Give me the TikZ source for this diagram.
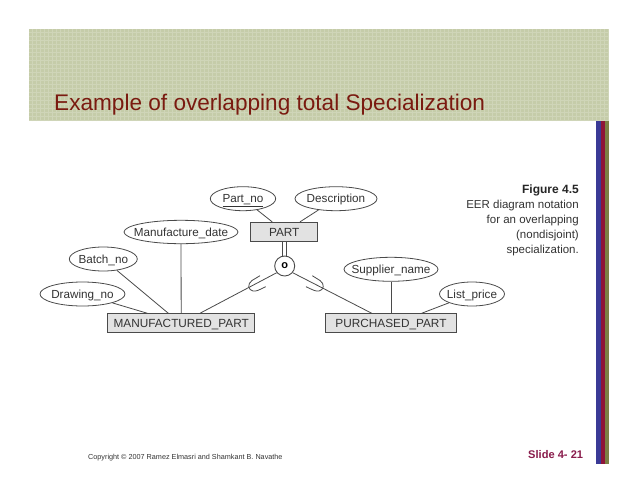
\documentclass[tikz,border=0pt]{standalone}
\usepackage{fontspec}
\setmainfont{Liberation Sans}
\usetikzlibrary{shapes.geometric}
\definecolor{hdr}{HTML}{C5CCA9}
\definecolor{hdrline}{HTML}{CFD5B8}
\definecolor{titlered}{HTML}{7A1A10}
\definecolor{slidered}{HTML}{8A1C4C}
\definecolor{barblue}{HTML}{3A3A96}
\definecolor{barred}{HTML}{8E1438}
\definecolor{barolive}{HTML}{7C8044}
\definecolor{ink}{HTML}{4A4A4A}
\definecolor{txt}{HTML}{333333}
\definecolor{boxfill}{HTML}{E2E2E2}
\newcommand{\attrlabel}[1]{\makebox[0pt][c]{#1}}
\tikzset{
  attr/.style={draw=ink,line width=0.8pt,fill=white,ellipse,inner sep=0pt,text=txt,text height=8pt,text depth=0pt,font=\fontsize{11.7}{13}\selectfont},
  entity/.style={draw=ink,line width=0.9pt,fill=boxfill,rectangle,inner sep=0pt,text=txt,text height=9pt,text depth=0pt,font=\fontsize{11.8}{13}\selectfont},
  conn/.style={draw=ink,line width=0.8pt},
  captext/.style={inner sep=0pt,anchor=base east,text=txt,font=\fontsize{11.5}{13}\selectfont},
}
\begin{document}
\begin{tikzpicture}[x=1pt,y=-1pt]
\useasboundingbox (0,0) rectangle (638,493);
\fill[white] (0,0) rectangle (638,493);
% header band
\fill[hdr] (29,29) rectangle (609,121);
\draw[hdrline,line width=0.6pt,step=4pt] (29,29) grid (609,121);
\node[inner sep=0pt,anchor=base west,text=titlered,font=\fontsize{22.6}{24}\selectfont] (title) at (54,110) {Example of overlapping total Specialization};
% side bar
\fill[barblue] (596,121) rectangle (600.6,464);
\fill[barred] (600.6,121) rectangle (605,464);
\fill[barolive] (605,121) rectangle (609,464);
\node[attr,minimum width=65.4pt,minimum height=24pt] (partno) at (243,198.7) {\attrlabel{\underline{Part\_no}}};
\node[attr,minimum width=82pt,minimum height=24pt] (descr) at (336,198.7) {\attrlabel{Description}};
\node[attr,minimum width=114pt,minimum height=23.4pt] (mfgdate) at (181,232) {\attrlabel{Manufacture\_date}};
\node[attr,minimum width=68pt,minimum height=24pt] (batch) at (103.3,259) {\attrlabel{Batch\_no}};
\node[attr,minimum width=85pt,minimum height=24pt] (drawing) at (82.5,294) {\attrlabel{Drawing\_no}};
\node[attr,minimum width=94pt,minimum height=24pt] (supplier) at (391,269.3) {\attrlabel{Supplier\_name}};
\node[attr,minimum width=65pt,minimum height=24pt] (listprice) at (472,294) {\attrlabel{List\_price}};
\node[entity,minimum width=67pt,minimum height=19pt] (part) at (284.2,231.8) {PART};
\node[entity,minimum width=147pt,minimum height=19pt] (mfg) at (181.2,323.2) {MANUFACTURED\_PART};
\node[entity,minimum width=130.6pt,minimum height=19pt] (purch) at (391,323.2) {PURCHASED\_PART};
\node[draw=ink,line width=0.9pt,fill=white,circle,minimum size=20pt,inner sep=0pt,text=black,font=\bfseries\fontsize{11}{11}\selectfont] (spec) at (284.7,266) {o};
\draw[conn] (partno) -- ([xshift=-12pt]part.north);
\draw[conn] (descr) -- ([xshift=15.8pt]part.north);
\draw[conn] (mfgdate) -- (mfg);
\draw[conn] (batch) -- ([xshift=-12.9pt]mfg.north);
\draw[conn] (drawing) -- ([xshift=-33.9pt]mfg.north);
\draw[conn] (supplier) -- (purch);
\draw[conn] (listprice) -- ([xshift=30.7pt]purch.north);
\draw[conn] (spec.220) -- ([xshift=18.8pt]mfg.north);
\draw[conn] (spec.-40) -- ([xshift=-19.3pt]purch.north);
\draw[conn] ([xshift=-1.8pt]part.south) -- ([xshift=-2.3pt]spec.north);
\draw[conn] ([xshift=2.2pt]part.south) -- ([xshift=1.7pt]spec.north);
% subset symbols
\draw[conn,line width=0.8pt] (260,275.7) -- (252,280.5) .. controls (247,284) and (248,290) .. (253,291) .. controls (256,291.7) and (259,290) .. (265.7,286.7);
\draw[conn,line width=0.8pt] (312.3,275.7) -- (320,280.5) .. controls (325,284) and (324,290) .. (319,291) .. controls (316,291.7) and (313,290) .. (306,286.7);
% caption
\node[captext,font=\bfseries\fontsize{12}{13}\selectfont,text=black!85] (c1) at (579,193.3) {Figure 4.5};
\node[captext] (c2) at (579,208.3) {EER diagram notation};
\node[captext] (c3) at (579,223.3) {for an overlapping};
\node[captext] (c4) at (579,238.3) {(nondisjoint)};
\node[captext] (c5) at (579,253.3) {specialization.};
% footer
\node[inner sep=0pt,anchor=base west,text=txt,font=\fontsize{7.25}{9}\selectfont] (copy) at (88,459) {Copyright © 2007 Ramez Elmasri and Shamkant B. Navathe};
\node[inner sep=0pt,anchor=base west,text=slidered,font=\bfseries\fontsize{11.1}{13}\selectfont] (slide) at (528,458.5) {Slide 4- 21};
\end{tikzpicture}
\end{document}
